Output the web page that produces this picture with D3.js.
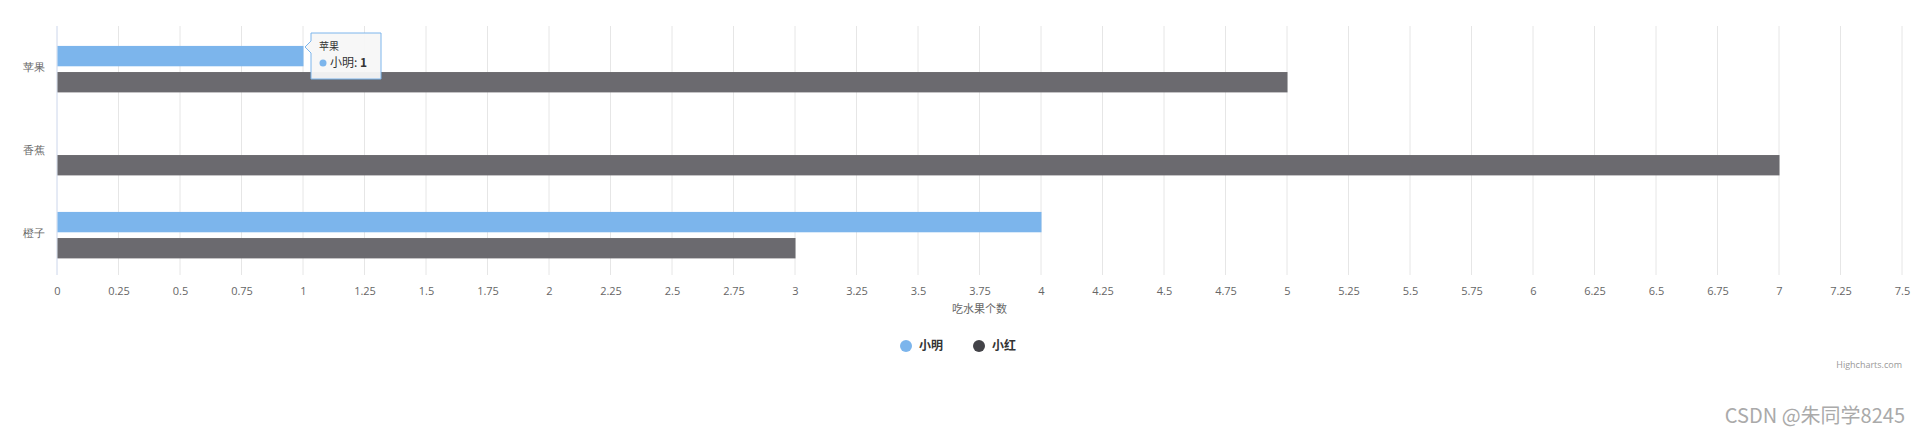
<!DOCTYPE html>
<html><head><meta charset="utf-8">
<script src="https://cdn.jsdelivr.net/npm/d3@7"></script>
<style>body{margin:0;background:#fff;font-family:"Noto Sans CJK SC","DejaVu Sans",sans-serif}</style>
</head><body><svg id="c" width="1919" height="434"></svg>
<script>
const categories = ['苹果', '香蕉', '橙子'];
const seriesNames = ['小明', '小红'];
const xiaoming = [1, null, 4];
const xiaohong = [5, 7, 3];
const xTicks = d3.range(0, 7.51, 0.25);
const colors = ['#7cb5ec', '#6b6a6f'];

const svg = d3.select('#c');
const m = {left: 57, right: 17, top: 26, bottom: 159};
const w = 1919 - m.left - m.right, h = 434 - m.top - m.bottom;
const g = svg.append('g').attr('transform', `translate(${m.left},${m.top})`);

const x = d3.scaleLinear().domain([0, 7.5]).range([0, w]);
const y = d3.scaleBand().domain(categories).range([0, h]);
const inner = d3.scaleBand().domain(seriesNames).range([y.bandwidth()*0.24, y.bandwidth()*0.8]).paddingInner(0.22);

// grid
g.append('g').selectAll('line').data(xTicks).enter().append('line')
  .attr('x1', d => x(d)).attr('x2', d => x(d)).attr('y1', 0).attr('y2', h)
  .attr('stroke', d => d === 0 ? '#ccd6eb' : '#e6e6e6');

const data = [xiaoming, xiaohong];
data.forEach((vals, si) => {
  g.append('g').selectAll('rect')
    .data(vals.map((v, i) => ({v, c: categories[i]})).filter(d => d.v != null))
    .enter().append('rect')
    .attr('x', x(0) + 0.5).attr('y', d => y(d.c) + inner(seriesNames[si]))
    .attr('width', d => x(d.v) - x(0)).attr('height', inner.bandwidth())
    .attr('fill', colors[si]);
});

// axes
g.append('g').attr('transform', `translate(0,${h})`)
  .call(d3.axisBottom(x).tickValues(xTicks).tickSize(0).tickPadding(12).tickFormat(d3.format('~g')))
  .call(a => a.select('.domain').remove())
  .selectAll('text').attr('fill', '#666').style('font-size', '11px').style('font-family', 'Open Sans, sans-serif');
g.append('g')
  .call(d3.axisLeft(y).tickSize(0).tickPadding(12))
  .call(a => a.select('.domain').remove())
  .selectAll('text').attr('fill', '#666').style('font-size', '11px');

svg.append('text').attr('x', m.left + w/2).attr('y', 313).attr('text-anchor', 'middle')
  .attr('fill', '#666').style('font-size', '11px').text('吃水果个数');

// legend
const leg = svg.append('g').attr('transform', 'translate(906,346)');
seriesNames.forEach((n, i) => {
  const lg = leg.append('g').attr('transform', `translate(${i*73},0)`);
  lg.append('circle').attr('r', 6).attr('fill', i ? '#434348' : '#7cb5ec');
  lg.append('text').attr('x', 13).attr('y', 4).style('font-size', '12px').style('font-weight', 'bold')
    .attr('fill', '#333').text(n);
});

svg.append('text').attr('x', 1902).attr('y', 368).attr('text-anchor', 'end')
  .attr('fill', '#999').style('font-size', '9px').style('font-family', 'Open Sans, sans-serif').text('Highcharts.com');

// tooltip
const tt = svg.append('g').attr('transform', `translate(${m.left + x(xiaoming[0]) + 8},33)`);
tt.append('path').attr('d', 'M0,0 H70 V46 H0 V20 L-6,14 L0,8 Z')
  .attr('fill', 'rgba(247,247,247,0.95)').attr('stroke', '#7cb5ec').attr('stroke-width', 1);
tt.append('text').attr('x', 8).attr('y', 17).style('font-size', '10px').attr('fill', '#333').text(categories[0]);
tt.append('circle').attr('cx', 12).attr('cy', 30).attr('r', 3.5).attr('fill', '#7cb5ec');
tt.append('text').attr('x', 19).attr('y', 34).style('font-size', '12px').attr('fill', '#333')
  .html(`${seriesNames[0]}: <tspan font-weight="bold">${xiaoming[0]}</tspan>`);

svg.append('text').attr('x', 1905).attr('y', 423).attr('text-anchor', 'end')
  .attr('fill', '#aaa').style('font-size', '20px').text('CSDN @朱同学8245');
</script></body></html>
